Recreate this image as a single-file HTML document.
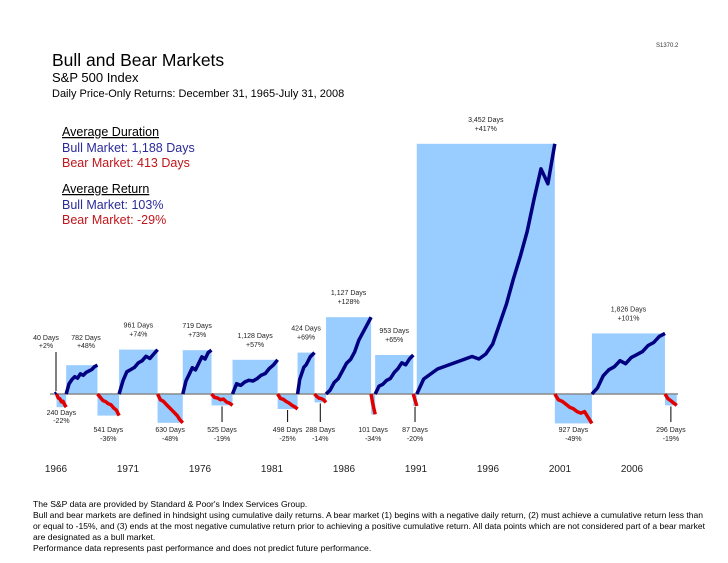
<!DOCTYPE html>
<html><head><meta charset="utf-8"><style>
html,body{margin:0;padding:0;background:#fff;}
svg{display:block;font-family:"Liberation Sans",Arial,sans-serif;}
</style></head><body>
<svg id="chart" width="728" height="563" viewBox="0 0 728 563">
<text x="656" y="47" font-size="6" fill="#333">S1370.2</text>
<text x="52" y="66" font-size="17.5" fill="#000">Bull and Bear Markets</text>
<text x="52" y="82" font-size="13" fill="#000">S&amp;P 500 Index</text>
<text x="52" y="97" font-size="11" fill="#000">Daily Price-Only Returns: December 31, 1965-July 31, 2008</text>
<g>
<text x="62" y="136" font-size="12.5" fill="#000" text-decoration="underline">Average Duration</text>
<text x="62" y="152" font-size="12.5" fill="#2a2a9a">Bull Market: 1,188 Days</text>
<text x="62" y="167" font-size="12.5" fill="#c0161b">Bear Market: 413 Days</text>
<text x="62" y="193" font-size="12.5" fill="#000" text-decoration="underline">Average Return</text>
<text x="62" y="209" font-size="12.5" fill="#2a2a9a">Bull Market: 103%</text>
<text x="62" y="224" font-size="12.5" fill="#c0161b">Bear Market: -29%</text>
</g>
<g id="plot"></g>
<g font-size="8.6" fill="#000">
<text x="33" y="507">The S&amp;P data are provided by Standard &amp; Poor's Index Services Group.</text>
<text x="33" y="518" textLength="670" lengthAdjust="spacingAndGlyphs">Bull and bear markets are defined in hindsight using cumulative daily returns. A bear market (1) begins with a negative daily return, (2) must achieve a cumulative return less than</text>
<text x="33" y="529" textLength="672" lengthAdjust="spacingAndGlyphs">or equal to -15%, and (3) ends at the most negative cumulative return prior to achieving a positive cumulative return. All data points which are not considered part of a bear market</text>
<text x="33" y="540">are designated as a bull market.</text>
<text x="33" y="551">Performance data represents past performance and does not predict future performance.</text>
</g>
</svg>
<script>
const marketDays = [40,240,782,541,961,630,719,525,1128,498,424,288,1127,101,953,87,3452,927,1826,296];
const marketReturns = [2,-22,48,-36,74,-48,73,-19,57,-25,69,-14,128,-34,65,-20,417,-49,101,-19];
const dayLabels = ["40 Days","240 Days","782 Days","541 Days","961 Days","630 Days","719 Days","525 Days","1,128 Days","498 Days","424 Days","288 Days","1,127 Days","101 Days","953 Days","87 Days","3,452 Days","927 Days","1,826 Days","296 Days"];
const returnLabels = ["+2%","-22%","+48%","-36%","+74%","-48%","+73%","-19%","+57%","-25%","+69%","-14%","+128%","-34%","+65%","-20%","+417%","-49%","+101%","-19%"];
const pathShapes = [
 [0,0.5,1],
 [0,0.3,0.35,0.6,0.55,0.8,1],
 [0,0.35,0.5,0.6,0.55,0.7,0.65,0.75,0.8,0.85,0.95,1],
 [0,0.15,0.3,0.35,0.45,0.5,0.65,0.75,1],
 [0,0.3,0.5,0.55,0.6,0.7,0.75,0.85,0.8,0.9,1],
 [0,0.2,0.25,0.35,0.45,0.55,0.65,0.75,0.9,1],
 [0,0.3,0.45,0.6,0.55,0.7,0.85,0.8,0.95,1],
 [0,0.3,0.35,0.5,0.45,0.7,0.8,1],
 [0,0.3,0.25,0.35,0.4,0.38,0.45,0.55,0.6,0.75,0.85,1],
 [0,0.3,0.35,0.5,0.6,0.75,0.85,1],
 [0,0.35,0.5,0.65,0.7,0.8,0.9,0.95,1],
 [0,0.3,0.5,0.55,0.7,1],
 [0,0.05,0.15,0.2,0.3,0.4,0.45,0.55,0.7,0.8,0.9,1],
 [0,0.4,0.7,1],
 [0,0.2,0.25,0.35,0.4,0.55,0.65,0.8,0.75,0.9,1],
 [0,0.5,1],
 [0,0.06,0.08,0.1,0.11,0.12,0.13,0.14,0.15,0.14,0.16,0.2,0.28,0.36,0.46,0.55,0.65,0.78,0.9,0.84,1],
 [0,0.2,0.25,0.35,0.45,0.5,0.6,0.65,0.6,0.8,1],
 [0,0.1,0.3,0.4,0.45,0.55,0.5,0.6,0.65,0.7,0.8,0.85,0.95,1],
 [0,0.4,0.6,0.8,1]
];
const yearTicks = [1966,1971,1976,1981,1986,1991,1996,2001,2006];

const NS = "http://www.w3.org/2000/svg";
const plot = document.getElementById('plot');
const x0 = 55, pxPerDay = 0.04, baseY = 394, pxPerPct = 0.6;
const xScale = d => x0 + d * pxPerDay;
const yScale = p => baseY - p * pxPerPct;
function mk(tag, attrs){ const e = document.createElementNS(NS, tag); for (const k in attrs) e.setAttribute(k, attrs[k]); plot.appendChild(e); return e; }
function txt(x, y, s, size){ const t = mk('text', {x:x, y:y, 'font-size':size, 'text-anchor':'middle', fill:'#222'}); t.textContent = s; return t; }

let cum = 0;
const boxes = [];
marketDays.forEach((d, i) => {
  const xa = xScale(cum), xb = xScale(cum + d), r = marketReturns[i];
  const y = yScale(Math.max(r, 0)), h = Math.abs(yScale(r) - baseY);
  const rect = mk('rect', {x:xa, y:y, width:xb - xa, height:h, fill:'#99ccff'});
  
  
  boxes.push({xa, xb, r});
  cum += d;
});
const bl = mk('line', {x1:50, y1:baseY, x2:678, y2:baseY, stroke:'#888', 'stroke-width':1.5});



marketDays.forEach((d, i) => {
  const b = boxes[i], s = pathShapes[i], n = s.length - 1;
  const pts = s.map((f, k) => (b.xa + (b.xb - b.xa) * k / n).toFixed(1) + ',' + yScale(f * b.r).toFixed(1)).join(' ');
  const pl = mk('polyline', {points:pts, fill:'none', stroke: b.r >= 0 ? '#000080' : '#e00000', 'stroke-width':3.5, 'stroke-linejoin':'round'});
  
  
});

marketDays.forEach((d, i) => {
  const b = boxes[i], cx = (b.xa + b.xb) / 2;
  let lx = cx, y1, y2;
  if (i === 0) { lx = 46; y1 = 340; y2 = 348; mk('line', {x1:b.xa + 1, y1:352, x2:b.xa + 1, y2:391, stroke:'#000'}); }
  else if (i === 2) { lx = 86; y1 = 340; y2 = 348; }
  else if (i === 1) { y1 = 415; y2 = 423; }
  else if (b.r >= 0) { const top = yScale(b.r); y1 = top - 22; y2 = top - 13; }
  else {
    y1 = 432; y2 = 441;
    if ([7,9,11,15,19].includes(i)) mk('line', {x1:cx, y1:yScale(b.r) + 1, x2:cx, y2:422, stroke:'#000'});
  }
  const t1 = txt(lx, y1, dayLabels[i], 7);
  
  
  const t2 = txt(lx, y2, returnLabels[i], 7);
  
  
});

yearTicks.forEach(yr => {
  const t = txt(56 + (yr - 1966) * 14.4, 472, String(yr), 10);
  
  
});
</script>
</body></html>
